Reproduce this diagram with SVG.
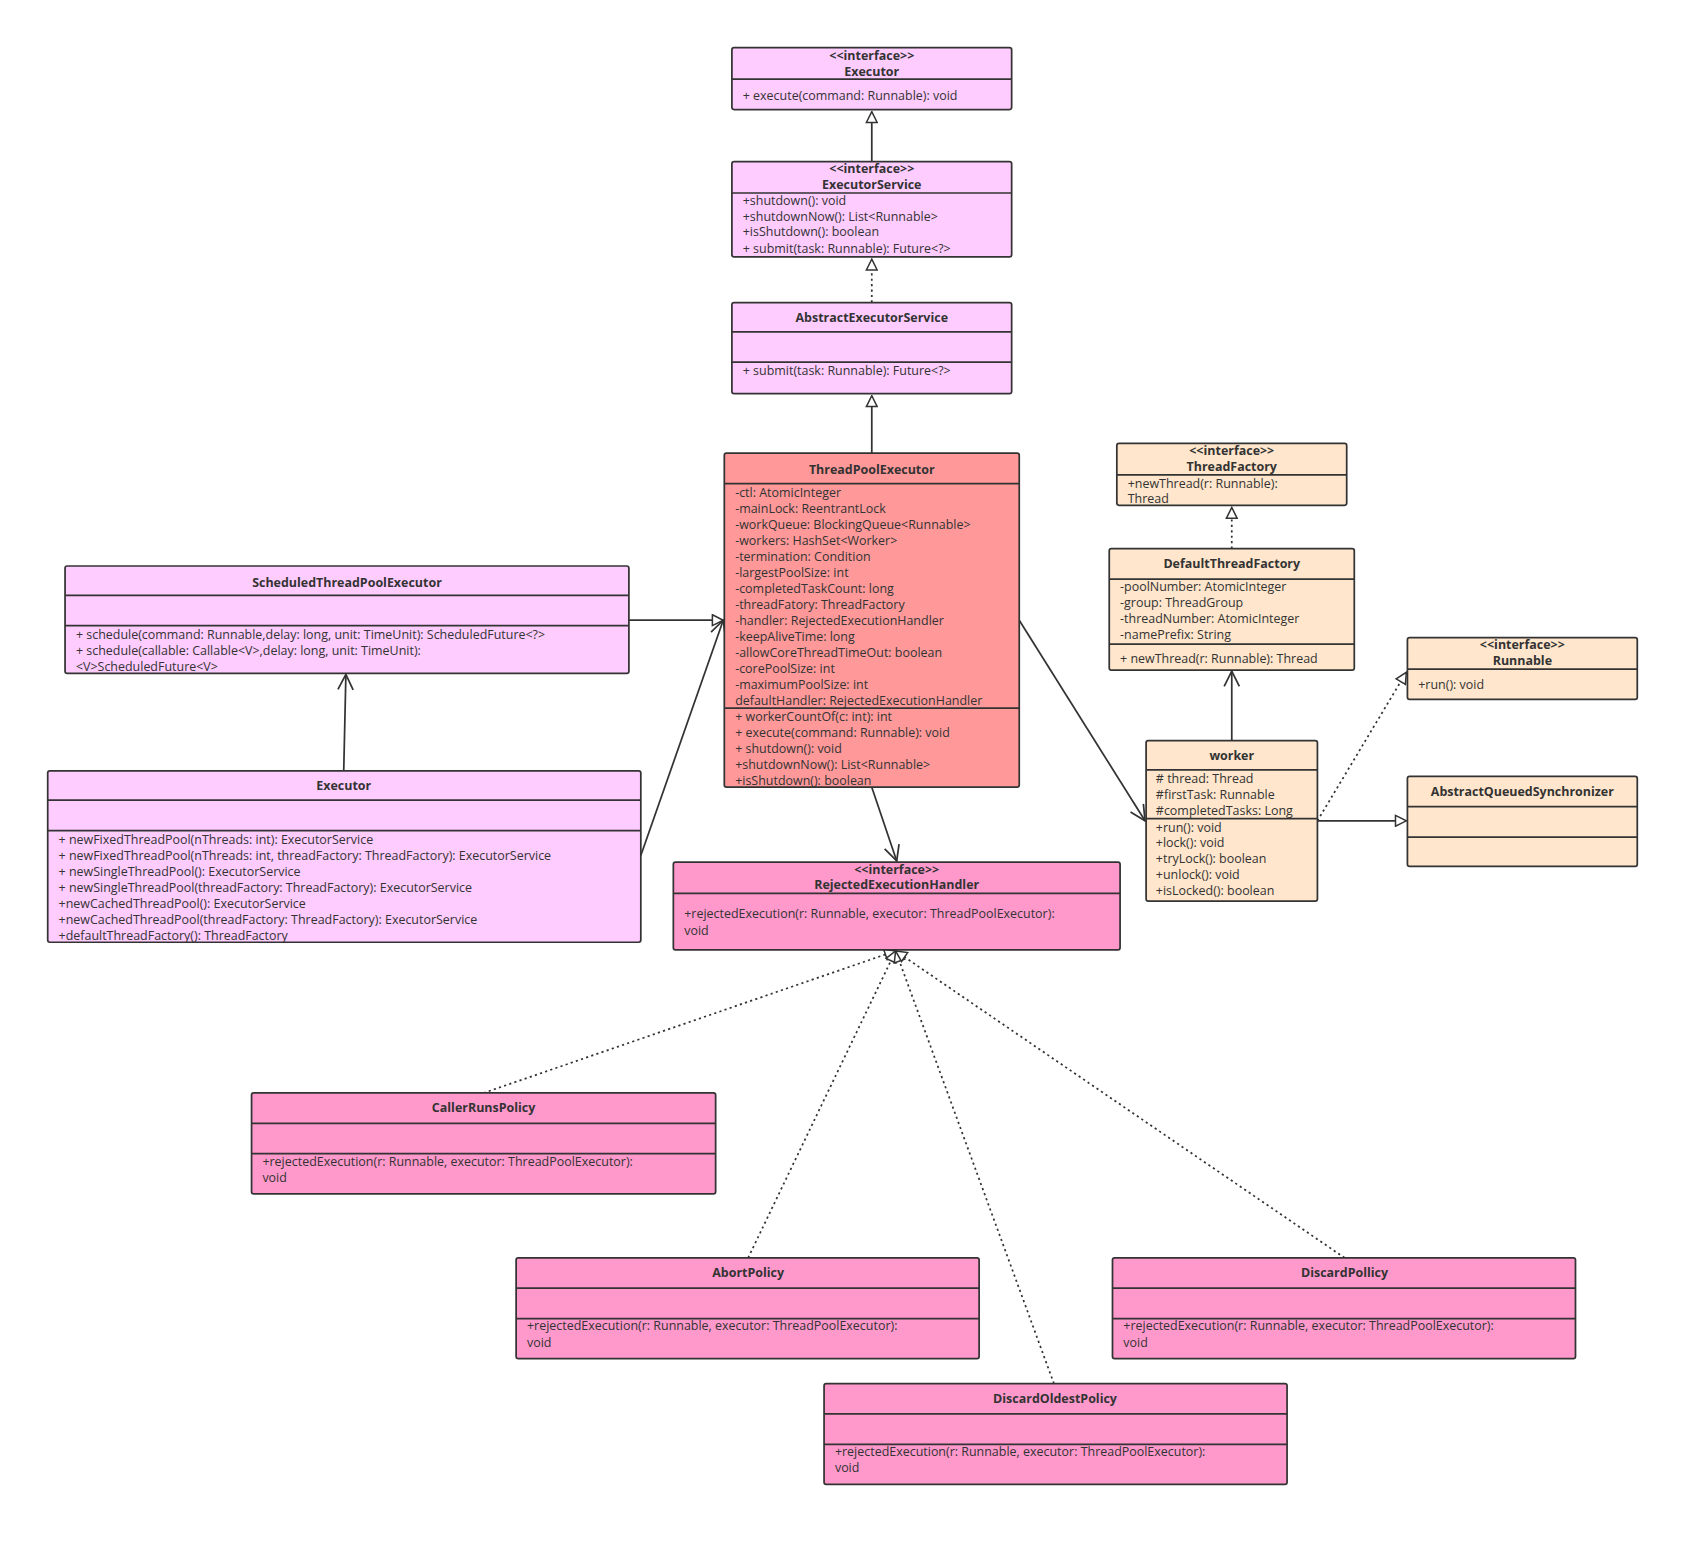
<svg xmlns="http://www.w3.org/2000/svg" width="1699" height="1546" viewBox="0 0 1699 1546">
<style>
text{font-family:"Open Sans","Noto Sans","DejaVu Sans",sans-serif;font-size:11.5px;fill:#333}
.t{font-weight:bold;text-anchor:middle}
.b{stroke:#333;stroke-width:1.6}
.l{stroke:#333;stroke-width:1.6;fill:none}
.d{stroke-dasharray:2,3}
.m{fill:#ffccff}.r{fill:#ff9999}.p{fill:#ffe6cc}.k{fill:#ff99cc}
</style>
<defs>
<marker id="tri" viewBox="0 0 12 12" refX="11" refY="6" markerWidth="12" markerHeight="12" markerUnits="userSpaceOnUse" orient="auto"><path d="M1,1 L11,6 L1,11 Z" fill="#fff" stroke="#333" stroke-width="1.4"/></marker>
<marker id="arr" viewBox="0 0 16 16" refX="15" refY="8" markerWidth="16" markerHeight="16" markerUnits="userSpaceOnUse" orient="auto"><path d="M1,1 L15,8 L1,15" fill="none" stroke="#333" stroke-width="1.6"/></marker>
</defs>
<rect width="1699" height="1546" fill="#fff"/>
<g transform="scale(1.0843)">
<g id="connectors">
<path class="l" d="M804,149 L804,103" marker-end="url(#tri)"/>
<path class="l d" d="M804,279 L804,239" marker-end="url(#tri)"/>
<path class="l" d="M804,418 L804,365" marker-end="url(#tri)"/>
<path class="l" d="M580,572 L667,572" marker-end="url(#tri)"/>
<path class="l" d="M591,789 L667,572" marker-end="url(#arr)"/>
<path class="l" d="M317,711 L319,622" marker-end="url(#arr)"/>
<path class="l" d="M804,726 L827,794" marker-end="url(#arr)"/>
<path class="l" d="M940,572 L1056,757" marker-end="url(#arr)"/>
<path class="l" d="M1136,683 L1136,619" marker-end="url(#arr)"/>
<path class="l d" d="M1136,506 L1136,468" marker-end="url(#tri)"/>
<path class="l d" d="M1215,757 L1297,620" marker-end="url(#tri)"/>
<path class="l" d="M1215,757 L1297,757" marker-end="url(#tri)"/>
<path class="l d" d="M446,1008 L826,877" marker-end="url(#tri)"/>
<path class="l d" d="M690,1160 L826,877" marker-end="url(#tri)"/>
<path class="l d" d="M972,1276 L826,877" marker-end="url(#tri)"/>
<path class="l d" d="M1240,1160 L826,877" marker-end="url(#tri)"/>
</g>
<g id="executor-if">
<rect class="b m" x="675" y="44" width="258" height="57" rx="2"/><path class="b" d="M675,73H933"/>
<text class="t" x="804" y="55">&lt;&lt;interface&gt;&gt;</text><text class="t" x="804" y="70">Executor</text>
<text x="685" y="92">+ execute(command: Runnable): void</text>
</g>
<g id="executorservice">
<rect class="b m" x="675" y="149" width="258" height="88" rx="2"/><path class="b" d="M675,178H933"/>
<text class="t" x="804" y="160">&lt;&lt;interface&gt;&gt;</text><text class="t" x="804" y="174">ExecutorService</text>
<text x="685" y="189">+shutdown(): void</text><text x="685" y="204">+shutdownNow(): List&lt;Runnable&gt;</text>
<text x="685" y="218">+isShutdown(): boolean</text><text x="685" y="233">+ submit(task: Runnable): Future&lt;?&gt;</text>
</g>
<g id="abstractexecutorservice">
<rect class="b m" x="675" y="279" width="258" height="84" rx="2"/><path class="b" d="M675,306H933M675,334H933"/>
<text class="t" x="804" y="297">AbstractExecutorService</text>
<text x="685" y="346">+ submit(task: Runnable): Future&lt;?&gt;</text>
</g>
<g id="threadpoolexecutor">
<rect class="b r" x="668" y="418" width="272" height="308" rx="2"/><path class="b" d="M668,446H940M668,653H940"/>
<text class="t" x="804" y="437">ThreadPoolExecutor</text>
<text x="678" y="458">-ctl: AtomicInteger</text>
<text x="678" y="472.8">-mainLock: ReentrantLock</text>
<text x="678" y="487.6">-workQueue: BlockingQueue&lt;Runnable&gt;</text>
<text x="678" y="502.4">-workers: HashSet&lt;Worker&gt;</text>
<text x="678" y="517.2">-termination: Condition</text>
<text x="678" y="532">-largestPoolSize: int</text>
<text x="678" y="546.8">-completedTaskCount: long</text>
<text x="678" y="561.6">-threadFatory: ThreadFactory</text>
<text x="678" y="576.4">-handler: RejectedExecutionHandler</text>
<text x="678" y="591.2">-keepAliveTime: long</text>
<text x="678" y="606">-allowCoreThreadTimeOut: boolean</text>
<text x="678" y="620.8">-corePoolSize: int</text>
<text x="678" y="635.6">-maximumPoolSize: int</text>
<text x="678" y="650.4">defaultHandler: RejectedExecutionHandler</text>
<text x="678" y="665">+ workerCountOf(c: int): int</text>
<text x="678" y="679.8">+ execute(command: Runnable): void</text>
<text x="678" y="694.6">+ shutdown(): void</text>
<text x="678" y="709.4">+shutdownNow(): List&lt;Runnable&gt;</text>
<text x="678" y="724.2">+isShutdown(): boolean</text>
</g>
<g id="scheduledthreadpoolexecutor">
<rect class="b m" x="60" y="522" width="520" height="99" rx="2"/><path class="b" d="M60,549H580M60,577H580"/>
<text class="t" x="320" y="541">ScheduledThreadPoolExecutor</text>
<text x="70" y="589">+ schedule(command: Runnable,delay: long, unit: TimeUnit): ScheduledFuture&lt;?&gt;</text>
<text x="70" y="604">+ schedule(callable: Callable&lt;V&gt;,delay: long, unit: TimeUnit):</text>
<text x="70" y="619">&lt;V&gt;ScheduledFuture&lt;V&gt;</text>
</g>
<g id="executors">
<rect class="b m" x="44" y="711" width="547" height="158" rx="2"/><path class="b" d="M44,738H591M44,766H591"/>
<text class="t" x="317" y="729">Executor</text>
<text x="54" y="778">+ newFixedThreadPool(nThreads: int): ExecutorService</text>
<text x="54" y="792.8">+ newFixedThreadPool(nThreads: int, threadFactory: ThreadFactory): ExecutorService</text>
<text x="54" y="807.6">+ newSingleThreadPool(): ExecutorService</text>
<text x="54" y="822.4">+ newSingleThreadPool(threadFactory: ThreadFactory): ExecutorService</text>
<text x="54" y="837.2">+newCachedThreadPool(): ExecutorService</text>
<text x="54" y="852">+newCachedThreadPool(threadFactory: ThreadFactory): ExecutorService</text>
<text x="54" y="866.8">+defaultThreadFactory(): ThreadFactory</text>
</g>
<g id="rejectedexecutionhandler">
<rect class="b k" x="621" y="795" width="412" height="81" rx="2"/><path class="b" d="M621,824H1033"/>
<text class="t" x="827" y="806">&lt;&lt;interface&gt;&gt;</text><text class="t" x="827" y="820">RejectedExecutionHandler</text>
<text x="631" y="847">+rejectedExecution(r: Runnable, executor: ThreadPoolExecutor):</text><text x="631" y="862">void</text>
</g>
<g id="threadfactory">
<rect class="b p" x="1030" y="409" width="212" height="57" rx="2"/><path class="b" d="M1030,438H1242"/>
<text class="t" x="1136" y="420">&lt;&lt;interface&gt;&gt;</text><text class="t" x="1136" y="434">ThreadFactory</text>
<text x="1040" y="450">+newThread(r: Runnable):</text><text x="1040" y="464">Thread</text>
</g>
<g id="defaultthreadfactory">
<rect class="b p" x="1023" y="506" width="226" height="112" rx="2"/><path class="b" d="M1023,534H1249M1023,594H1249"/>
<text class="t" x="1136" y="524">DefaultThreadFactory</text>
<text x="1033" y="545">-poolNumber: AtomicInteger</text><text x="1033" y="560">-group: ThreadGroup</text>
<text x="1033" y="575">-threadNumber: AtomicInteger</text><text x="1033" y="589">-namePrefix: String</text>
<text x="1033" y="611">+ newThread(r: Runnable): Thread</text>
</g>
<g id="runnable">
<rect class="b p" x="1298" y="588" width="212" height="57" rx="2"/><path class="b" d="M1298,617H1510"/>
<text class="t" x="1404" y="599">&lt;&lt;interface&gt;&gt;</text><text class="t" x="1404" y="613">Runnable</text>
<text x="1308" y="635">+run(): void</text>
</g>
<g id="worker">
<rect class="b p" x="1057" y="683" width="158" height="148" rx="2"/><path class="b" d="M1057,710H1215M1057,755H1215"/>
<text class="t" x="1136" y="701">worker</text>
<text x="1066" y="722">  # thread: Thread</text><text x="1066" y="737">#firstTask: Runnable</text><text x="1066" y="752">#completedTasks: Long</text>
<text x="1066" y="767">+run(): void</text><text x="1066" y="781.5">+lock(): void</text><text x="1066" y="796">+tryLock(): boolean</text>
<text x="1066" y="810.5">+unlock(): void</text><text x="1066" y="825">+isLocked(): boolean</text>
</g>
<g id="aqs">
<rect class="b p" x="1298" y="716" width="212" height="83" rx="2"/><path class="b" d="M1298,744H1510M1298,772H1510"/>
<text class="t" x="1404" y="734">AbstractQueuedSynchronizer</text>
</g>
<g id="callerrunspolicy">
<rect class="b k" x="232" y="1008" width="428" height="93" rx="2"/><path class="b" d="M232,1036H660M232,1064H660"/>
<text class="t" x="446" y="1026">CallerRunsPolicy</text>
<text x="242" y="1075">+rejectedExecution(r: Runnable, executor: ThreadPoolExecutor):</text><text x="242" y="1090">void</text>
</g>
<g id="abortpolicy">
<rect class="b k" x="476" y="1160" width="427" height="93" rx="2"/><path class="b" d="M476,1188H903M476,1216H903"/>
<text class="t" x="690" y="1178">AbortPolicy</text>
<text x="486" y="1227">+rejectedExecution(r: Runnable, executor: ThreadPoolExecutor):</text><text x="486" y="1242">void</text>
</g>
<g id="discardpollicy">
<rect class="b k" x="1026" y="1160" width="427" height="93" rx="2"/><path class="b" d="M1026,1188H1453M1026,1216H1453"/>
<text class="t" x="1240" y="1178">DiscardPollicy</text>
<text x="1036" y="1227">+rejectedExecution(r: Runnable, executor: ThreadPoolExecutor):</text><text x="1036" y="1242">void</text>
</g>
<g id="discardoldestpolicy">
<rect class="b k" x="760" y="1276" width="427" height="93" rx="2"/><path class="b" d="M760,1304H1187M760,1332H1187"/>
<text class="t" x="973" y="1294">DiscardOldestPolicy</text>
<text x="770" y="1343">+rejectedExecution(r: Runnable, executor: ThreadPoolExecutor):</text><text x="770" y="1358">void</text>
</g>
</g>
</svg>
